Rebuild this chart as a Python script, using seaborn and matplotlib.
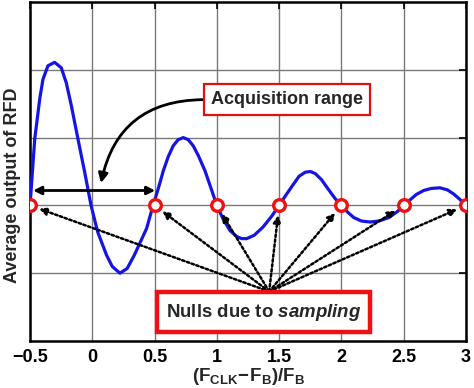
import matplotlib
matplotlib.use("Agg")
import matplotlib.pyplot as plt
import numpy as np
import pandas as pd
import seaborn as sns

# ---- data ----
curve_x = [-0.5, -0.494, -0.462, -0.422, -0.396, -0.356, -0.302, -0.249, -0.209, -0.168, -0.115, -0.061, -0.01,
           0.043, 0.115, 0.16, 0.222, 0.28, 0.337, 0.436, 0.488,
           0.53, 0.57, 0.61, 0.65, 0.69, 0.73, 0.77, 0.81, 0.85, 0.905, 0.95, 1.0,
           1.05, 1.105, 1.16, 1.2, 1.24, 1.3, 1.37, 1.44, 1.5,
           1.55, 1.61, 1.66, 1.71, 1.75, 1.79, 1.84, 1.89, 1.95, 2.0,
           2.05, 2.1, 2.16, 2.23, 2.3, 2.38, 2.45, 2.5,
           2.55, 2.6, 2.66, 2.72, 2.79, 2.85, 2.9, 2.95, 3.0]
curve_y = [0.0, 0.15, 0.98, 1.57, 1.86, 2.06, 2.11, 2.03, 1.81, 1.47, 0.98, 0.49, 0.0,
           -0.39, -0.735, -0.9, -1.0, -0.93, -0.735, -0.34, 0.0,
           0.25, 0.51, 0.72, 0.88, 0.97, 1.0, 0.97, 0.88, 0.74, 0.51, 0.27, 0.0,
           -0.2, -0.37, -0.46, -0.49, -0.49, -0.44, -0.32, -0.16, 0.0,
           0.14, 0.3, 0.43, 0.49, 0.50, 0.47, 0.38, 0.25, 0.1, 0.0,
           -0.1, -0.18, -0.23, -0.245, -0.23, -0.18, -0.09, 0.0,
           0.08, 0.16, 0.22, 0.25, 0.26, 0.23, 0.17, 0.09, 0.0]
null_x = [-0.5, 0.5, 1.0, 1.5, 2.0, 2.5, 3.0]
null_y = [0, 0, 0, 0, 0, 0, 0]
x_ticks = [-0.5, 0, 0.5, 1, 1.5, 2, 2.5, 3]
x_tick_labels = ["\u22120.5", "0", "0.5", "1", "1.5", "2", "2.5", "3"]
y_ticks = [-1, 0, 1, 2]
y_label = "Average output of RFD"
x_label = r"$\mathbf{(F_{CLK}\!-\!F_B)/F_B}$"
acq_text = "Acquisition range"
nulls_text = r"Nulls due to $\mathit{sampling}$"

sns.set_theme(style="white")
plt.rcParams["font.family"] = ["Liberation Sans", "DejaVu Sans"]
plt.rcParams["font.weight"] = "bold"
plt.rcParams["mathtext.fontset"] = "custom"
plt.rcParams["mathtext.rm"] = "Liberation Sans:bold"
plt.rcParams["mathtext.bf"] = "Liberation Sans:bold"
plt.rcParams["mathtext.it"] = "Liberation Sans:italic:bold"

fig = plt.figure(figsize=(4.74, 3.88), dpi=100)
ax = fig.add_axes([0.0633, 0.1211, 0.9198, 0.8737])

df = pd.DataFrame({"x": curve_x, "y": curve_y})
sns.lineplot(data=df, x="x", y="y", sort=False, color="#1414e6", lw=2.3, ax=ax, zorder=3)

ax.set_xlim(-0.5, 3)
ax.set_ylim(-2, 3)
ax.set_xticks(x_ticks)
ax.set_xticklabels(x_tick_labels, fontsize=13, fontweight="bold")
ax.set_yticks(y_ticks)
ax.set_yticklabels([])
ax.grid(True, color="#7a7a7a", lw=1.0)
ax.tick_params(direction="in", length=5, width=1.2, top=True, right=True,
               colors="black", pad=6)
for s in ax.spines.values():
    s.set_linewidth(1.8)
    s.set_color("black")

ax.set_xlabel(x_label, fontsize=13.5, labelpad=0)
ax.set_ylabel(y_label, fontsize=13, fontweight="bold")
ax.yaxis.set_label_coords(-0.021, 0.46)

# double-headed acquisition range arrow
ax.annotate("", xy=(-0.475, 0.22), xytext=(0.505, 0.22),
            arrowprops=dict(arrowstyle="<|-|>", color="black", lw=2,
                            mutation_scale=12, shrinkA=0, shrinkB=0), zorder=4)

# Acquisition range box + curved arrow
ax.text(0.953, 1.566, acq_text, fontsize=13, fontweight="bold", ha="left", va="center",
        bbox=dict(boxstyle="square,pad=0.4", fc="white", ec="#e01010", lw=1.6), zorder=6)
ax.annotate("", xy=(0.07, 0.33), xytext=(0.885, 1.56),
            arrowprops=dict(arrowstyle="-|>", color="black", lw=2,
                            connectionstyle="arc3,rad=0.4", mutation_scale=14,
                            shrinkA=0, shrinkB=0), zorder=4)

# dotted arrows to nulls
src = (1.42, -1.27)
for nx, ny in zip(null_x, null_y):
    ax.annotate("", xy=(nx, ny), xytext=src,
                arrowprops=dict(arrowstyle="-|>", color="black", lw=1.8, ls=(0, (1, 1)),
                                mutation_scale=11, shrinkA=0, shrinkB=7), zorder=4)

# null markers
sns.scatterplot(x=null_x, y=null_y, marker="o", s=70, facecolor="white",
                edgecolor="#ee1111", linewidth=2.4, ax=ax, zorder=7)

ax.text(1.374, -1.574, nulls_text, fontsize=13.4, fontweight="bold", ha="center", va="center",
        bbox=dict(boxstyle="square,pad=0.5", fc="white", ec="#ee1111", lw=3.2), zorder=6)

fig.savefig("out.png", dpi=100)
